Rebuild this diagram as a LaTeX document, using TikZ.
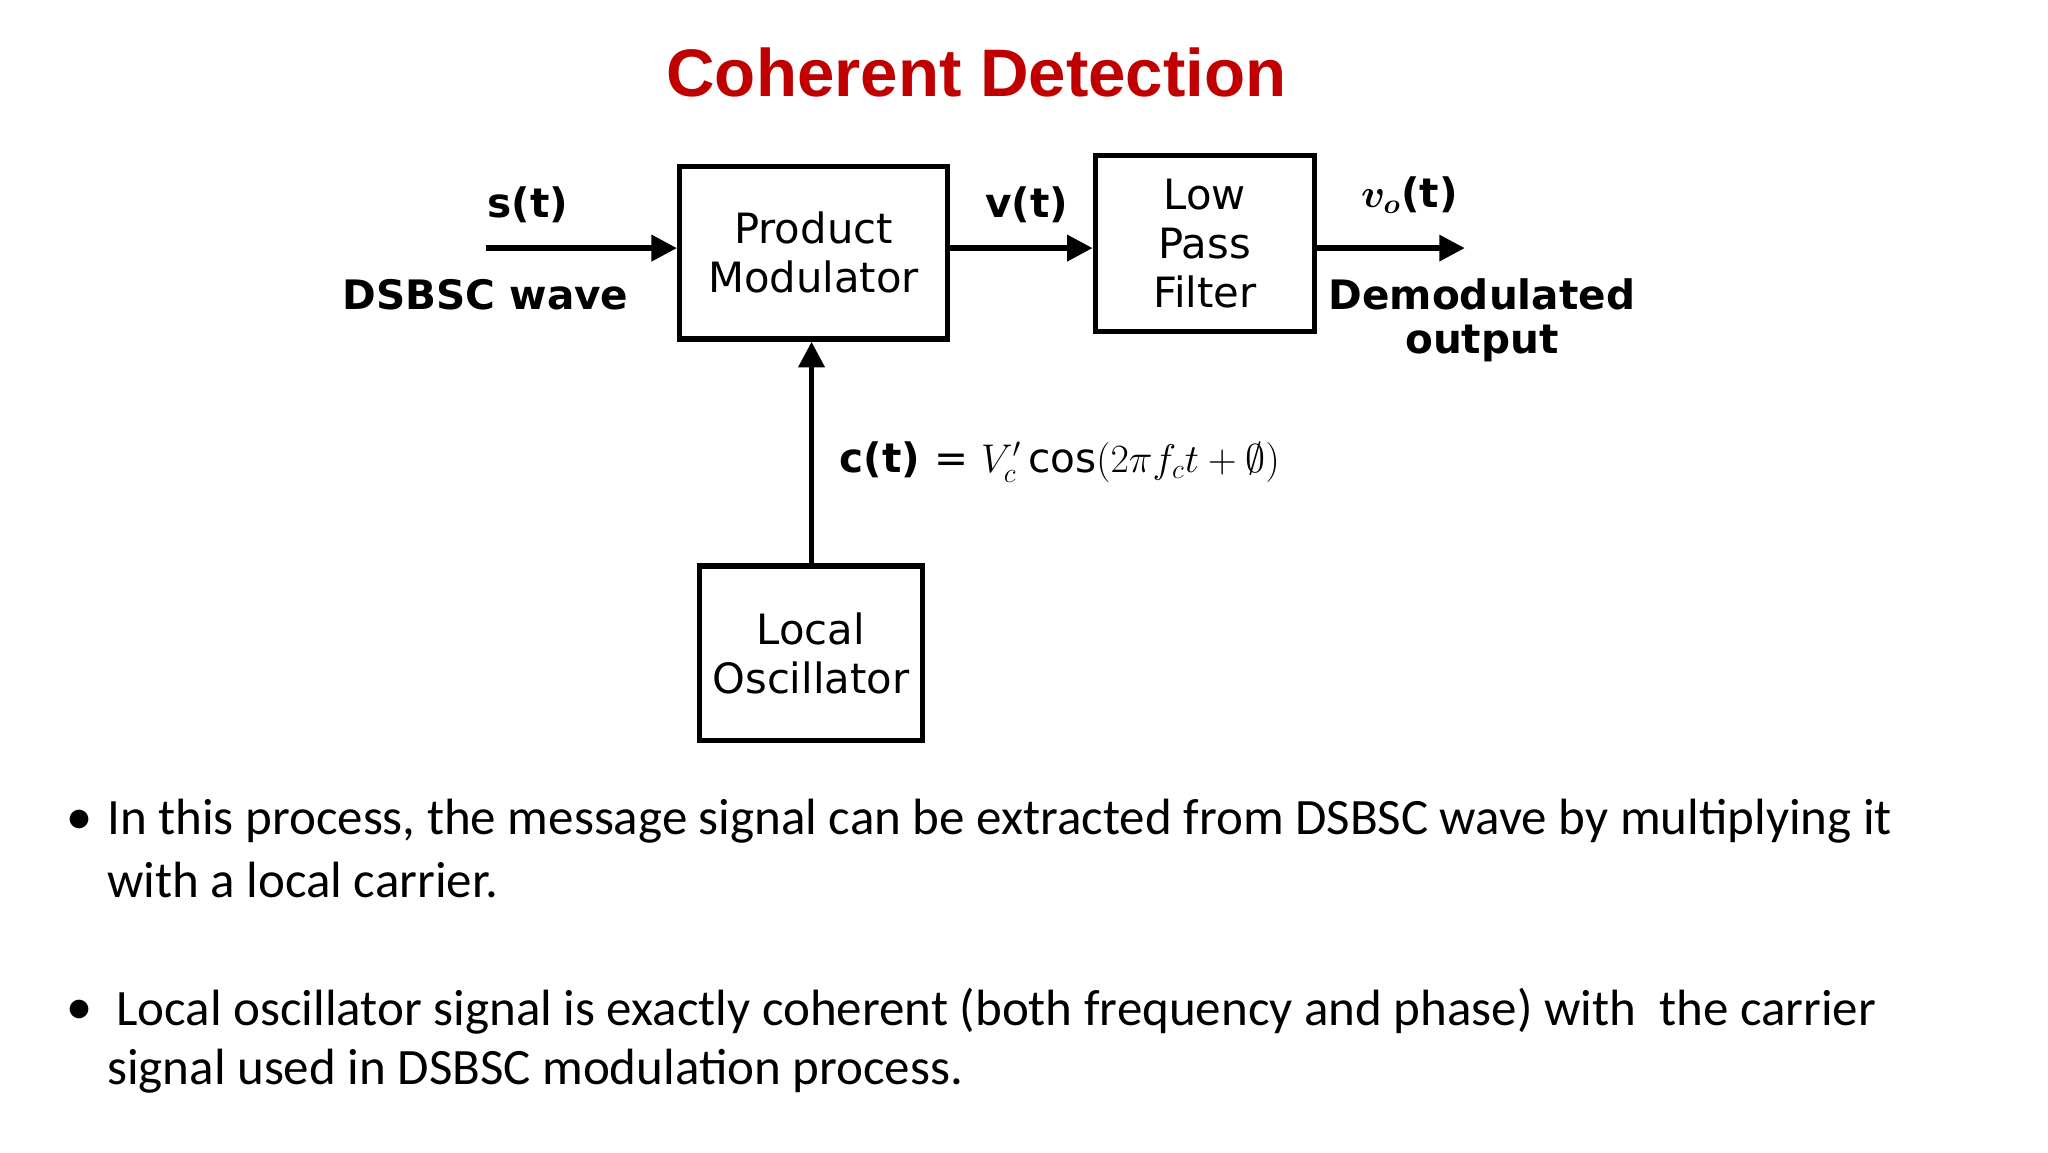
\documentclass[tikz,border=0pt]{standalone}
\usepackage{fontspec}
\usepackage{amsmath}
\setmainfont{DejaVu Sans}
\newfontfamily\bodyf{Carlito}
\newfontfamily\titlef{Liberation Sans}
\usetikzlibrary{arrows.meta}
\definecolor{titlered}{RGB}{192,0,0}
\begin{document}
\begin{tikzpicture}[x=0.02cm,y=-0.02cm,
  blk/.style={draw,line width=2.3pt,inner sep=0pt,align=center,font=\fontsize{18}{21}\selectfont},
  sig/.style={line width=2.3pt,-{Triangle[length=11pt,width=11pt]}},
  lbl/.style={font=\bfseries\fontsize{17.5}{21}\selectfont},
  body/.style={font=\bodyf\fontsize{22}{26}\selectfont,anchor=west}]
\useasboundingbox (0,0) rectangle (1552,873);
\node[font=\titlef\bfseries\fontsize{29}{34}\selectfont,text=titlered] (title) at (740,55) {Coherent Detection};
\node[blk,minimum width=4.06cm,minimum height=2.62cm] (pm) at (616.5,191.5) {Product\\Modulator};
\node[blk,minimum width=3.32cm,minimum height=2.66cm] (lpf) at (913,184.5) {Low\\Pass\\Filter};
\node[blk,minimum width=3.38cm,minimum height=2.64cm] (lo) at (614.5,495) {Local\\Oscillator};
\coordinate (sin) at (368,188);
\coordinate (vout) at (1110,188);
\draw[sig] (sin) -- (sin -| pm.west);
\draw[sig] (pm.east |- 0,188) -- (lpf.west |- 0,188);
\draw[sig] (lpf.east |- 0,188) -- (vout);
\draw[sig] (lo.north -| 615,0) -- (pm.south -| 615,0);
\node[lbl] (st) at (400,155) {s(t)};
\node[lbl] (dsb) at (368,223) {DSBSC wave};
\node[lbl] (vt) at (778,155) {v(t)};
\node[lbl] (vot) at (1068,148) {$\boldsymbol{v_o}$(t)};
\node[lbl,align=center] (dem) at (1123,243) {Demodulated\\[-2pt]output};
\node[lbl,anchor=west] (ct) at (630,350) {c(t) {\mdseries\fontsize{17.5}{21}\selectfont= $V_c'\cos(2\pi f_ct+\emptyset)$}};
\node[font=\bodyf\fontsize{22}{26}\selectfont] (b1) at (60,622) {$\bullet$};
\node[body] (t1) at (75,622) {In this process, the message signal can be extracted from DSBSC wave by multiplying it};
\node[body] (t1b) at (75,667) {with a local carrier.};
\node[font=\bodyf\fontsize{22}{26}\selectfont] (b2) at (60,766) {$\bullet$};
\node[body] (t2) at (82,766) {Local oscillator signal is exactly coherent (both frequency and phase) with\ \ the carrier};
\node[body] (t2b) at (75,812) {signal used in DSBSC modulation process.};
\end{tikzpicture}
\end{document}
